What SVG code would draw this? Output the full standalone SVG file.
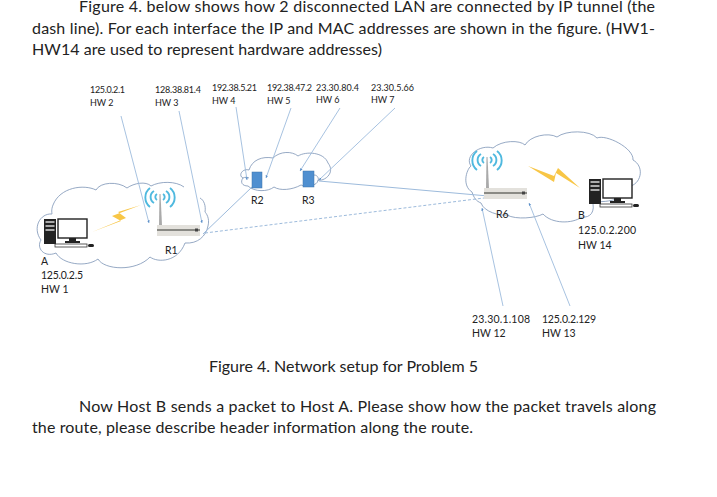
<svg xmlns="http://www.w3.org/2000/svg" width="717" height="497" viewBox="0 0 717 497">
<defs>
<style>
text{font-family:"Lato","Open Sans","Liberation Sans",sans-serif;fill:#222}
.b{font-size:16px}
.s{font-size:9px}
.m{font-size:10.500px}
.cloud{fill:#fff;stroke:#7b93b5;stroke-width:.8}
.lead{fill:none;stroke:#9dbbdc;stroke-width:.9;marker-end:url(#a)}
.link{fill:none;stroke:#9dbbdc;stroke-width:1}
.dash{fill:none;stroke:#9dbbdc;stroke-width:1;stroke-dasharray:3 2}
.wave{fill:none;stroke:#4fb9df;stroke-width:1.900}
.bolt{fill:#f8c646;stroke:none}
</style>
<marker id="a" markerWidth="4" markerHeight="4" refX="3" refY="1.500" orient="auto"><path d="M0 0L3 1.500L0 3Z" fill="#5b8fc9"/></marker>
<g id="pc">
<rect x="0" y="0" width="12" height="25" fill="#222"/>
<rect x="1.500" y="2" width="9" height="2" fill="#aaa"/><rect x="1.500" y="6" width="9" height="2" fill="#aaa"/><rect x="1.500" y="10" width="9" height="2" fill="#aaa"/>
<rect x="14" y="0" width="29" height="19" fill="#fff" stroke="#222" stroke-width="1.400"/>
<path d="M25 19h7v3h4v2H21v-2h4z" fill="#222"/>
<rect x="11" y="25" width="32" height="3" fill="#fff" stroke="#333" stroke-width=".8"/>
<rect x="44" y="25" width="6" height="3" rx="1.500" fill="#222"/>
</g>
<g id="router">
<path d="M2.500 -31L3.500 -31L5 0H2Z" fill="#aaa"/>
<rect x="0" y="0" width="43" height="11" fill="#e3e1dc"/>
<rect x="0" y="4" width="43" height="2" fill="#8a8a85"/>
<rect x="38" y="3.500" width="3" height="3" fill="#444"/>
<path d="M-3 -34a7 7 0 0 0 0 12M-7 -37a12 12 0 0 0 0 19M9 -34a7 7 0 0 1 0 12M13 -37a12 12 0 0 1 0 19M0 -31a3.500 3.500 0 0 0 0 6M6 -31a3.500 3.500 0 0 1 0 6" class="wave"/>
</g>
</defs>

<text class="b" x="79" y="12" textLength="576">Figure 4. below shows how 2 disconnected LAN are connected by IP tunnel (the</text>
<text class="b" x="32" y="34" textLength="623">dash line). For each interface the IP and MAC addresses are shown in the figure. (HW1-</text>
<text class="b" x="32" y="55" textLength="350">HW14 are used to represent hardware addresses)</text>

<g id="cloud-left"><path class="cloud" d="M184 187C176 181 160 181 151 186C146 181 134 183 127 188C118 181 100 182 96 190C84 184 60 187 53 205C51 210 52 213 52 214C40 213 32 228 41 240C36 248 44 258 56 253C62 264 86 268 98 259C104 270 136 272 150 257C158 263 178 262 185 243C198 244 206 236 208 226C210 218 206 213 205 212C206 206 204 200 200 198"/></g>
<g id="cloud-mid"><path class="cloud" d="M249 170C252 160 262 156 273 158C280 151 292 151 298 156C306 151 324 152 328 163C331 167 331 170 330 173C328 178 322 181 318 180C318 186 306 187 301 185C292 190 280 191 274 187C268 192 254 192 248 186C242 186 240 182 243 178C238 176 242 168 249 170Z"/><path class="cloud" d="M243 178C245 177 247 177 249 178M314 175C318 175 319 179 318 181"/></g>
<g id="cloud-right"><path class="cloud" d="M472 192C462 186 466 170 471 166C464 156 480 144 493 148C502 140 520 140 525 145C530 136 548 132 557 137C566 130 590 130 597 138C606 134 634 148 633 160C644 166 642 182 631 186C634 198 600 205 592 200C596 212 590 218 582 217C572 224 552 224 543 214C536 218 516 220 507 215C500 216 484 212 481 203C476 201 474 198 472 192Z"/></g>

<g id="connectors">
<path class="lead" d="M121 116L149 223"/>
<path class="lead" d="M179 111L202 223"/>
<path class="lead" d="M236 107L247 180"/>
<path class="lead" d="M291 108L266 178"/>
<path class="lead" d="M340 108L300 171"/>
<path class="lead" d="M395 108L319 180"/>
<path class="lead" d="M503 306L482 208"/>
<path class="lead" d="M570 306L529 203"/>
<path class="link" d="M203 234L252 187"/>
<path class="link" d="M319 181L488 196"/>
<path class="dash" d="M205 233L484 198"/>
</g>

<g id="node-A"><use href="#pc" x="44" y="219"/><text class="m" x="41" y="265">A</text><text class="m" x="41" y="279" textLength="42">125.0.2.5</text><text class="m" x="41" y="293">HW 1</text></g>
<g id="node-R1"><use href="#router" x="157" y="225"/><text class="m" x="165" y="254">R1</text></g>
<g id="node-R2"><rect x="252" y="172" width="10" height="16" fill="#4f8fd0" stroke="#3f74aa" stroke-width=".5"/><text class="m" x="251" y="204">R2</text></g>
<g id="node-R3"><rect x="303" y="171" width="11" height="16" fill="#4f8fd0" stroke="#3f74aa" stroke-width=".5"/><text class="m" x="302" y="204">R3</text></g>
<g id="node-R6"><use href="#router" x="484" y="188"/><text class="m" x="496" y="218">R6</text></g>
<g id="node-B"><use href="#pc" x="589" y="179"/><text class="m" x="578" y="219">B</text><text class="m" x="578" y="234" textLength="58">125.0.2.200</text><text class="m" x="578" y="249">HW 14</text></g>
<path class="bolt" d="M528 166L554 182L556 173L580 188L558 168L554 176Z"/>
<path class="bolt" d="M92 232L121 221L112 216L141 205L118 212L126 218Z"/>

<g id="labels">
<text class="s" x="90" y="93" textLength="35">125.0.2.1</text><text class="s" x="90" y="106">HW 2</text>
<text class="s" x="155" y="93" textLength="46">128.38.81.4</text><text class="s" x="155" y="106">HW 3</text>
<text class="s" x="212" y="91" textLength="45">192.38.5.21</text><text class="s" x="212" y="104">HW 4</text>
<text class="s" x="267" y="91" textLength="45">192.38.47.2</text><text class="s" x="267" y="104">HW 5</text>
<text class="s" x="316" y="91" textLength="43">23.30.80.4</text><text class="s" x="316" y="103">HW 6</text>
<text class="s" x="371" y="91" textLength="43">23.30.5.66</text><text class="s" x="371" y="103">HW 7</text>
<text class="m" x="472" y="323" textLength="58">23.30.1.108</text><text class="m" x="472" y="337">HW 12</text>
<text class="m" x="542" y="323" textLength="54">125.0.2.129</text><text class="m" x="542" y="337">HW 13</text>
</g>

<text class="b" x="209" y="372" textLength="269">Figure 4. Network setup for Problem 5</text>
<text class="b" x="79" y="412" textLength="577">Now Host B sends a packet to Host A. Please show how the packet travels along</text>
<text class="b" x="32" y="433" textLength="441">the route, please describe header information along the route.</text>
</svg>
